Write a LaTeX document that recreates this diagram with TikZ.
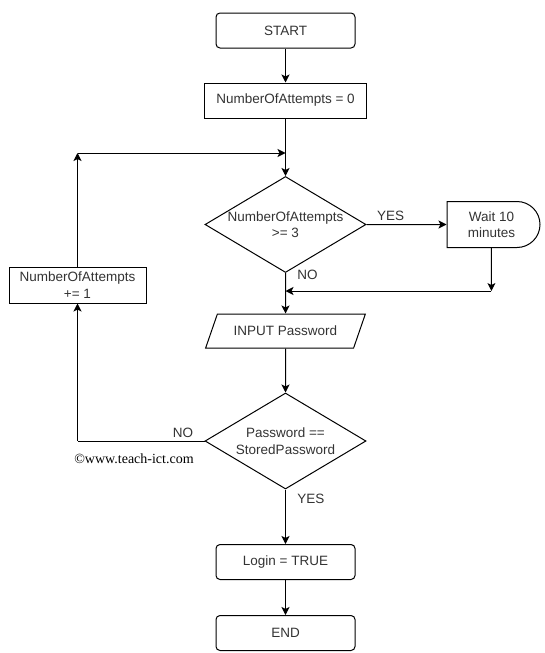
\documentclass[tikz,border=0pt]{standalone}
\usepackage{fontspec}
\setmainfont{Liberation Sans}
\newfontfamily\copyfont{Liberation Serif}
\usetikzlibrary{
  shapes,
  arrows.meta,
  shapes.geometric,
  shapes.misc,
  positioning,
}
\tikzstyle{terminal} = [
rectangle,
draw,
rounded corners=4pt,
minimum width=139pt,
minimum height=35pt,
inner sep=0pt
]
\tikzstyle{process} = [
rectangle,
draw,
minimum width=162pt,
minimum height=35pt,
inner sep=0pt,
align=center
]
\tikzstyle{decision} = [
diamond,
draw,
minimum width=161pt,
minimum height=96pt,
inner sep=0pt
]
\tikzstyle{inout} = [
trapezium,
trapezium left angle=48,
trapezium right angle=132,
trapezium stretches=true,
draw,
minimum width=160pt,
minimum height=34pt,
inner sep=0pt
]
\tikzstyle{delaybox} = [
rounded rectangle,
rounded rectangle left arc=none,
draw,
minimum width=93pt,
minimum height=46pt,
inner sep=0pt,
align=center
]
\tikzstyle{arrow} = [draw, -{Stealth[length=8pt,width=8pt,inset=2pt]}]

\begin{document}
\begin{tikzpicture}[x=1pt, y=1pt, line width=1pt, text=black!80,
  font=\fontsize{13.5}{16.5}\selectfont]
  \useasboundingbox (0,0) rectangle (545,-653);
  % Place nodes
  \node [terminal] (start) at (285.5,-30.5) {START};
  \node [process] (init) at (285.5,-100.5) {NumberOfAttempts = 0};
  \node [decision,
         label={[align=center]center:NumberOfAttempts\\>= 3}] (check) at (285.5,-224.5) {};
  \node [inout] (read) at (285.5,-331) {INPUT Password};
  \node [decision,
         label={[align=center]center:Password ==\\StoredPassword}] (verify) at (285.5,-441) {};
  \node [terminal, rectangle] (login) at (285.5,-562) {Login = TRUE};
  \node [terminal, below=35pt of login] (stop) {END};

  \node [delaybox, right=80pt of check] (wait) {Wait 10\\minutes};
  \node [process, minimum width=137pt, minimum height=36pt] (inc) at (77.5,-285) {NumberOfAttempts\\+= 1};

  \coordinate (loop) at (77.5,-153);
  \coordinate (merge) at (285.5,-153);
  \coordinate (rejoin) at (285.5,-291);
  \coordinate (back) at (wait |- rejoin);
  \coordinate (fail) at (77.5,-441);

  \node [text=black] (copy) at (134,-459) {\copyfont\fontsize{14}{16}\selectfont ©www.teach-ict.com};

  % Draw edges
  \path [arrow] (start) -- (init);
  \path [arrow] (init) -- (check);
  \path [arrow] (inc) -- (loop);
  \path [arrow] (loop) -- (merge);
  \path [arrow] (check) -- node [above, pos=0.3] (yes1) {YES} (wait);
  \path [arrow] (check) -- node [right, pos=0.05, xshift=8pt] (no1) {NO} (read);
  \path [arrow] (wait) -- (back);
  \path [arrow] (back) -- (rejoin);
  \path [arrow] (read) -- (verify);
  \draw (verify.west) -- node [above, pos=0.17] (no2) {NO} (fail);
  \path [arrow] (fail) -- (inc);
  \path [arrow] (verify) -- node [right, pos=0.18, xshift=8pt] (yes2) {YES} (login);
  \path [arrow] (login) -- (stop);
\end{tikzpicture}
\end{document}
